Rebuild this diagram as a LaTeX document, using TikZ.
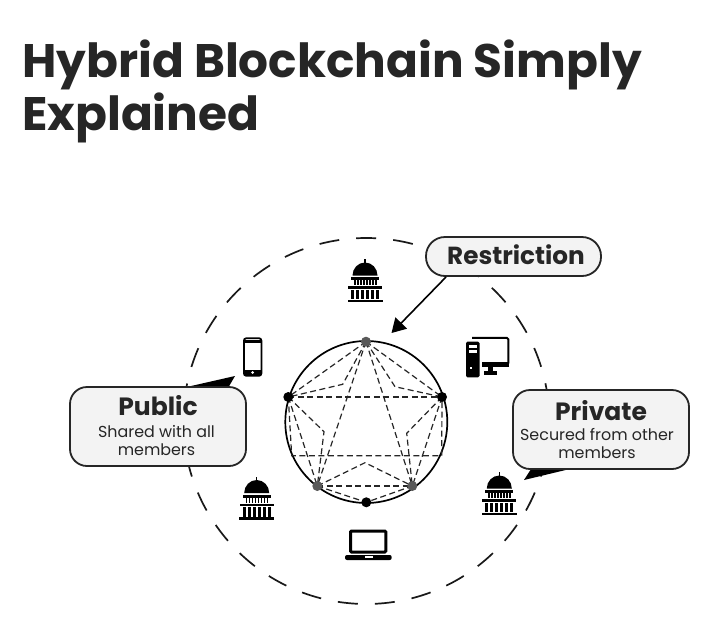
\documentclass[tikz,border=0pt]{standalone}
\usepackage{fontspec}
\setmainfont{Poppins}
\usetikzlibrary{arrows.meta,calc}
\definecolor{ink}{HTML}{262626}
\definecolor{boxfill}{HTML}{F3F3F3}
\newcommand{\boxhead}{\fontsize{25}{28}\selectfont\bfseries}
\newcommand{\boxbody}{\fontsize{15.9}{18}\selectfont\mdseries}
\tikzset{
  lbox/.style={draw=ink,line width=1.8pt,fill=boxfill,rounded corners=17pt,inner sep=0pt,align=center,text=ink,minimum width=176pt,font=\boxbody},
  hub/.style={circle,fill=#1,inner sep=0pt,minimum size=10pt},
  mesh/.style={dash pattern=on 6pt off 3.5pt,line width=1.2pt,black!85},
  ring/.style={line width=1.7pt,black!90,dash pattern=on 20pt off 17.09pt,dash phase=0.7pt},
  wedge/.style={fill=black,draw=none},
  capitol/.pic={
    \fill[black] (-0.6,0) rectangle (0.6,4);
    \fill[black] (-12.5,16.5) arc[x radius=12.5,y radius=13,start angle=180,end angle=360] -- cycle;
    \fill[black] (-14,18) rectangle (14,21);
    \foreach \i in {-11,-8,-5,-2,1,4,7,10} \fill[black] (\i,21) rectangle ++(1.7,5);
    \fill[black] (-17,27) rectangle (17,29.5);
    \foreach \i in {-15,-10,-5,0,5,10} \fill[black] (\i+0.8,30.5) rectangle ++(3.2,9.5);
    \fill[black] (-17.5,40.5) rectangle (17.5,43);
  }
}
\begin{document}
\begin{tikzpicture}[x=1pt,y=-1pt]
\useasboundingbox[fill=white] (0,0) rectangle (702,627);
% title
\node[anchor=base west,inner sep=0pt,text=ink,font=\fontsize{47}{53}\selectfont\bfseries] (t1) at (22,77) {Hybrid Blockchain Simply};
\node[anchor=base west,inner sep=0pt,text=ink,font=\fontsize{47}{53}\selectfont\bfseries] (t2) at (22,130) {Explained};
% outer ring
\coordinate (centre) at (366.3,421);
\draw[ring] (centre) circle[radius=183];
% inner circle
\coordinate (inner) at (366.3,422);
\draw[line width=1.7pt,black] (inner) circle[radius=81];
% hubs
\coordinate (pT) at (366,341.7);
\coordinate (pL) at (288.3,397);
\coordinate (pR) at (442,397);
\coordinate (pLL) at (317.3,486);
\coordinate (pLR) at (412.3,486);
\coordinate (pB) at (366.3,502.3);
\coordinate (wTL) at (342.7,384.3);
\coordinate (wTR) at (395,386.7);
\coordinate (wLL) at (324,431.7);
\coordinate (wRR) at (406.7,433.3);
\coordinate (wBB) at (365,462.7);
\coordinate (eL) at (291.7,455.7);
\coordinate (eR) at (441.7,455.7);
\draw[mesh] (pT)--(pL);
\draw[mesh] (pT)--(wTL)--(pL);
\draw[mesh] (pT)--(pR);
\draw[mesh] (pT)--(wTR)--(pR);
\draw[mesh] (pT)--(pLL);
\draw[mesh] (pT)--(pLR);
\draw[mesh] (pL)--(pR);
\draw[mesh] (pL)--(pLL);
\draw[mesh] (pL)--(wLL)--(pLL);
\draw[mesh] (pR)--(pLR);
\draw[mesh] (pR)--(wRR)--(pLR);
\draw[mesh] (pL)--(eL)--(eR)--(pR);
\draw[mesh] (pLL)--(pLR);
\draw[mesh] (pLL)--(wBB)--(pLR);
\draw[mesh] (pLL)--(pB)--(pLR);
\node[hub=black!65] (nT) at (pT) {};
\node[hub=black] (nL) at (pL) {};
\node[hub=black] (nR) at (pR) {};
\node[hub=black!65] (nLL) at (pLL) {};
\node[hub=black!65] (nLR) at (pLR) {};
\node[hub=black] (nB) at (pB) {};
% capitols
\pic at (365,259) {capitol};
\pic at (256.7,476.5) {capitol};
\pic at (499.3,472) {capitol};
% phone
\draw[line width=1.8pt,black,fill=white,rounded corners=2.5pt] (243.9,338.2) rectangle (261.4,375.8);
\fill[black] (243.9,340) rectangle (261.4,342.5);
\fill[black] (243.9,369.5) rectangle (261.4,375);
\fill[white] (252.6,372.5) circle[radius=1.5];
% computer
\draw[line width=2pt,black,rounded corners=1.5pt] (472,337.8) -- (508.3,337.8) -- (508.3,364.5) -- (483,364.5);
\fill[black] (482,362) rectangle (509.3,366.5);
\fill[black] (487.5,366) rectangle (492.5,371);
\fill[black] (483.5,371) rectangle (496.5,374.5);
\fill[black,rounded corners=1.5pt] (466,341.7) rectangle (479.5,377.3);
\fill[white] (468.5,345) rectangle (477,347.5);
\fill[white] (468.5,350) rectangle (477,352.5);
\fill[white] (469.5,367) rectangle (471.5,369);
% laptop
\draw[line width=3pt,black,fill=white,rounded corners=1pt] (350.5,531) rectangle (385.8,552);
\fill[black,rounded corners=2pt] (345,555) rectangle (391.7,560);
\fill[white] (364.5,556) rectangle (372.5,558);
% tails
\coordinate (tailPub) at (235,376);
\coordinate (tailPri) at (524,480);
\fill[wedge] (186.7,387) -- (tailPub) -- (228,388) -- cycle;
\fill[wedge] (tailPri) -- (531.7,468) -- (574,468) -- cycle;
% boxes
\node[lbox,minimum height=79pt] (pub) at (158,426.5) {\raisebox{2.5pt}{\boxhead Public}\\[4pt]\raisebox{2pt}{\hspace*{-3pt}Shared with all}\\\raisebox{2pt}{\hspace*{-3pt}members}};
\node[lbox,minimum height=79pt] (pri) at (601,429.5) {\raisebox{-2.5pt}{\boxhead Private}\\[2pt]\raisebox{-2pt}{\hspace*{-8pt}Secured from other}\\\raisebox{-2pt}{\hspace*{-8pt}members}};
\node[lbox,minimum width=175pt,minimum height=39pt,rounded corners=19pt,font=\fontsize{24.7}{28}\selectfont\bfseries] (restr) at (513.5,256.5) {\raisebox{3pt}{\hspace*{5pt}Restriction}};
% arrow
\coordinate (tip) at (391.5,333);
\draw[line width=1.6pt,black,-{Triangle[length=14pt,width=16pt]}] ($(restr.south west)+(21,0)$) -- (tip);
\end{tikzpicture}
\end{document}
